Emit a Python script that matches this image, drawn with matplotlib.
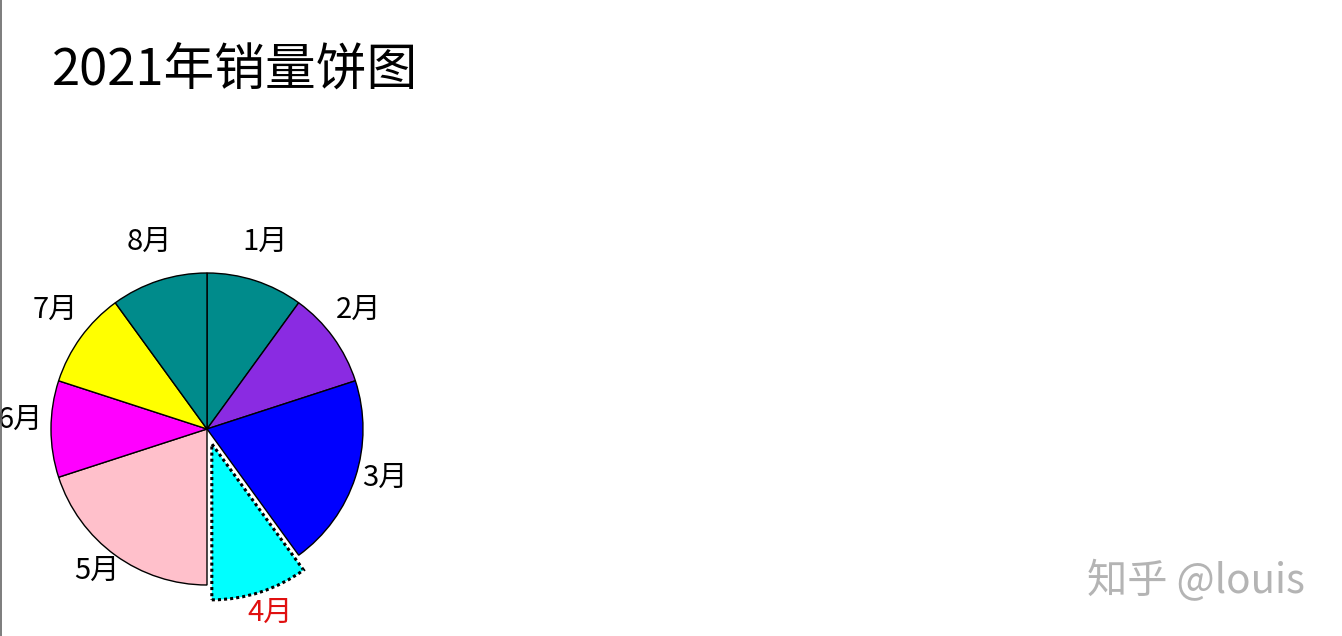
import numpy as np
import matplotlib as mpl
mpl.use("Agg")
import matplotlib.pyplot as plt
from matplotlib.lines import Line2D

plt.rcParams['font.family'] = ['Noto Sans CJK SC', 'DejaVu Sans']

# ===================== Data =====================
months = ["1月", "2月", "3月", "4月", "5月", "6月", "7月", "8月"]
sales = [1, 1, 2, 1, 2, 1, 1, 1]
colors = ["#008b8b", "#8a2be2", "#0000ff", "#00ffff",
          "#ffc0cb", "#ff00ff", "#ffff00", "#008b8b"]
highlight = 3          # 4月 is pulled out
title_text = "2021年销量饼图"
watermark = "知乎 @louis"

# ===================== Figure =====================
W, H = 1342, 636
fig = plt.figure(figsize=(W / 100, H / 100), dpi=100)
fig.patch.set_facecolor("white")

# pie centre (207, 429) px, radius 156 px
cx, cy, r_px = 207, 429, 156
half = 210
ax = fig.add_axes([(cx - half) / W, (H - cy - half) / H, 2 * half / W, 2 * half / H])

explode = [0.1 if i == highlight else 0 for i in range(len(sales))]
wedges, texts = ax.pie(sales, labels=months, colors=colors, explode=explode,
                       startangle=90, counterclock=False, radius=1.0,
                       labeldistance=1.2,
                       wedgeprops=dict(edgecolor="black", linewidth=1.0),
                       textprops=dict(fontsize=21))

ax.set_xlim(-half / r_px, half / r_px)
ax.set_ylim(-half / r_px, half / r_px)
ax.set_aspect("equal")
ax.axis("off")

for i, t in enumerate(texts):
    t.set_ha("center")
    t.set_va("center")
    x, y = t.get_position()
    t.set_position((x, y + 0.06))
    t.set_clip_on(False)

wedges[highlight].set_linestyle((0, (1, 1)))
wedges[highlight].set_linewidth(2.2)
texts[highlight].set_color("#e01010")

# title
fig.text(52 / W, 1 - 72 / H, title_text, fontsize=36.5, va="center", ha="left")

# watermark
fig.text(1087 / W, 1 - 581 / H, watermark, fontsize=29, va="center", ha="left",
         color="#b4b4b4")

# left border line
fig.add_artist(Line2D([0.5 / W, 0.5 / W], [0, 1], color="#666666", linewidth=1.2,
                      transform=fig.transFigure))

fig.savefig("out.png", dpi=100, facecolor="white")
